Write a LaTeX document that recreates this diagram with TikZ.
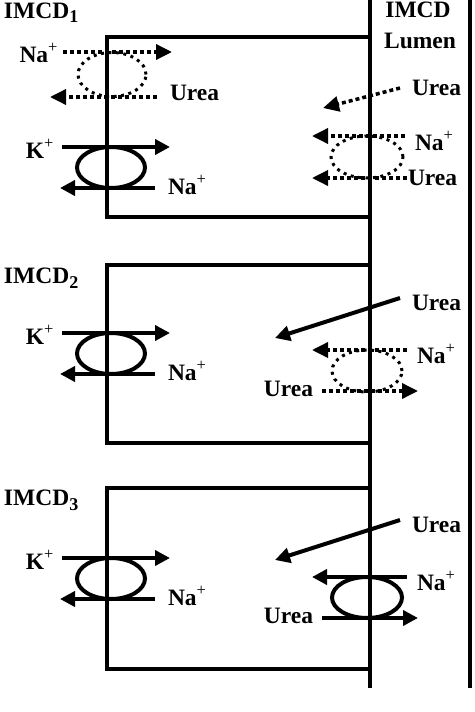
\documentclass[tikz,border=0pt]{standalone}
\usepackage{fontspec}
\setmainfont{Liberation Serif}
\usetikzlibrary{arrows.meta}

\newcommand{\ionp}{\textsuperscript{\normalfont +}}
\newcommand{\cellidx}[1]{\raisebox{-5pt}{\fontsize{18}{18}\selectfont #1}}

\begin{document}
\begin{tikzpicture}[x=1pt, y=-1pt,
    wall/.style={line width=4pt},
    carrier/.style={line width=4pt},
    flux/.style={line width=4pt, -{Triangle[length=15pt,width=15pt]}},
    leak/.style={line width=3.5pt, dash pattern=on 4pt off 3pt, -{Triangle[length=16pt,width=15pt]}},
    dotring/.style={line width=3pt, dash pattern=on 3pt off 4.5pt},
    ion/.style={font=\bfseries\fontsize{23.5}{25}\selectfont, inner sep=0pt, outer sep=0pt}]
\useasboundingbox (0,0) rectangle (474,712);
% lumen walls
\draw [wall] (370,0) -- (370,688);
\draw [wall] (470,0) -- (470,688);
\node[ion, anchor=base] (lumtop) at (418,17) {IMCD};
\node[ion, anchor=base] (lumen) at (420,48) {Lumen};
% the three cells
\foreach \t/\b in {37/217, 265/443, 488/669} {
    \draw [wall] (370,\t) -| (107,\b) -- (370,\b);
}
\node[ion, anchor=base west] (imcdA) at (4,18) {IMCD\cellidx{1}};
\node[ion, anchor=base west] (imcdB) at (4,283) {IMCD\cellidx{2}};
\node[ion, anchor=base west] (imcdC) at (4,505) {IMCD\cellidx{3}};
% K+/Na+ exchanger, basolateral side
\foreach \n/\y in {1/147, 2/333, 3/558} {
    \coordinate (kin\n) at (62,\y);
    \coordinate (kout\n) at (170,\y);
    \coordinate (nain\n) at (155,\y+41);
    \coordinate (naout\n) at (60,\y+41);
    \draw [flux] (kin\n) -- (kout\n);
    \draw [flux] (nain\n) -- (naout\n);
    \draw [carrier] (111,\y+20.5) ellipse [x radius=34pt, y radius=20.5pt];
    \node[ion, anchor=base east] (k\n) at (54,\y+11) {K\ionp};
    \node[ion, anchor=base west] (na\n) at (168,\y+47) {Na\ionp};
}
% IMCD1: Na+/urea, basolateral
\coordinate (bnain) at (63,52);
\coordinate (bnaout) at (172,52);
\coordinate (burin) at (157,97);
\coordinate (burout) at (50,97);
\draw [leak] (bnain) -- (bnaout);
\draw [leak] (burin) -- (burout);
\draw [dotring] (112,74.5) ellipse [x radius=34pt, y radius=22pt];
\node[ion, anchor=base east] (bna) at (58,62) {Na\ionp};
\node[ion, anchor=base west] (bur) at (170,100) {Urea};
% IMCD1: apical
\coordinate (aur1s) at (400,88);
\coordinate (aur1e) at (323,108);
\draw [leak] (aur1s) -- (aur1e);
\node[ion, anchor=base west] (aur1) at (412,95) {Urea};
\coordinate (ana1s) at (405,136);
\coordinate (ana1e) at (312,136);
\coordinate (aub1s) at (407,178);
\coordinate (aub1e) at (312,178);
\draw [leak] (ana1s) -- (ana1e);
\draw [leak] (aub1s) -- (aub1e);
\draw [dotring] (367,157) ellipse [x radius=36pt, y radius=21pt];
\node[ion, anchor=base west] (ana1) at (415,150) {Na\ionp};
\node[ion, anchor=base west] (aub1) at (408,185) {Urea};
% IMCD2 and IMCD3: apical
\foreach \n/\u/\y/\s in {2/298/350/leak, 3/520/577/flux} {
    \coordinate (aur\n s) at (400,\u);
    \coordinate (aur\n e) at (275,\u+40);
    \draw [flux] (aur\n s) -- (aur\n e);
    \node[ion, anchor=base west] (aur\n) at (412,\u+12) {Urea};
    \coordinate (ana\n s) at (407,\y);
    \coordinate (ana\n e) at (312,\y);
    \coordinate (aub\n s) at (322,\y+41);
    \coordinate (aub\n e) at (418,\y+41);
    \draw [\s] (ana\n s) -- (ana\n e);
    \draw [\s] (aub\n s) -- (aub\n e);
    \node[ion, anchor=base west] (ana\n) at (417,\y+13) {Na\ionp};
    \node[ion, anchor=base east] (aub\n) at (313,\y+46) {Urea};
}
\draw [dotring] (367,371) ellipse [x radius=35pt, y radius=21pt];
\draw [carrier] (367,597.5) ellipse [x radius=35pt, y radius=20.5pt];
\end{tikzpicture}
\end{document}
